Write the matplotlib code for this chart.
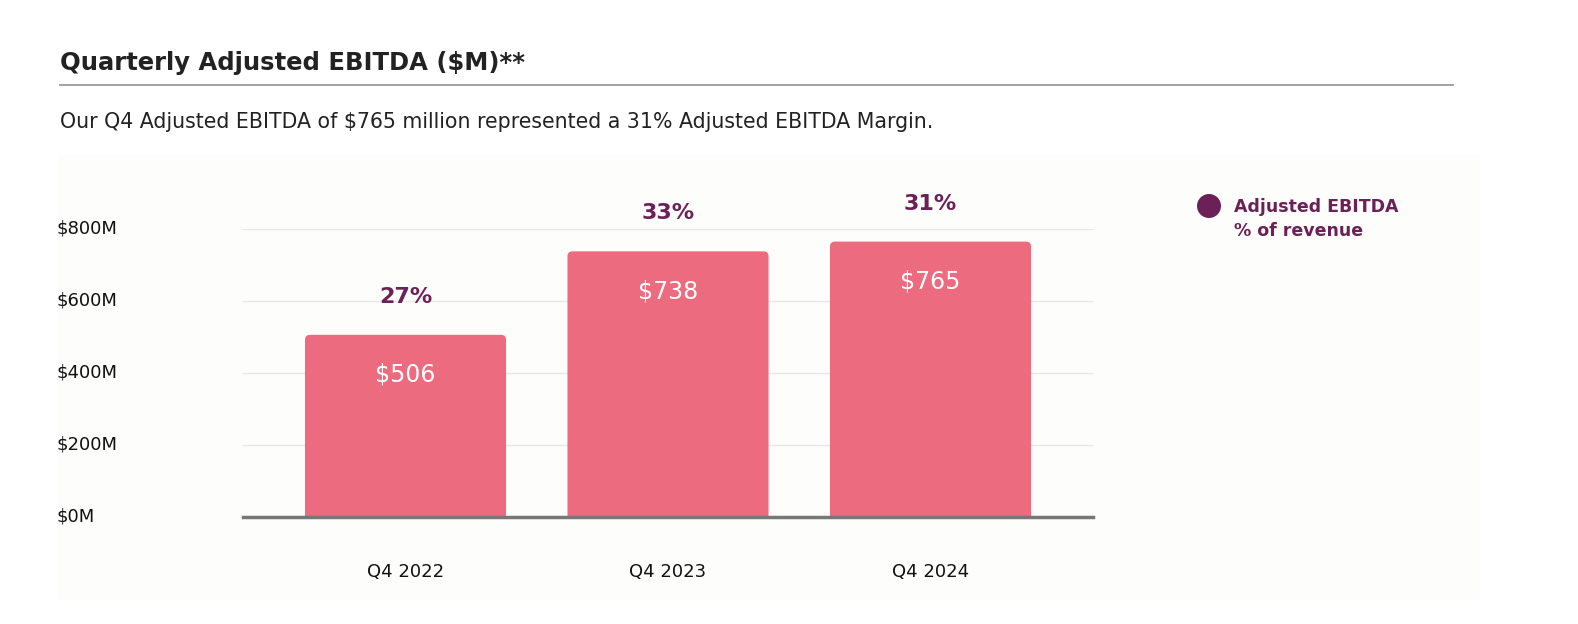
import matplotlib.pyplot as plt
from matplotlib.patches import Rectangle, Ellipse, FancyBboxPatch
from matplotlib.lines import Line2D
import numpy as np

quarters = ["Q4 2022", "Q4 2023", "Q4 2024"]
ebitda = [506, 738, 765]
margin = ["27%", "33%", "31%"]
yticks = [0, 200, 400, 600, 800]
ytick_labels = ["$0M", "$200M", "$400M", "$600M", "$800M"]

BAR_COLOR = "#EC6B7E"
PURPLE = "#6B2157"
W, H = 1578, 624

plt.rcParams['font.family'] = ['DejaVu Sans']

fig = plt.figure(figsize=(W / 100, H / 100), dpi=100)
fig.patch.set_facecolor("white")

# faint panel behind the chart
panel = Rectangle((58 / W, 1 - 600 / H), 1422 / W, 445 / H,
                  transform=fig.transFigure, facecolor="#FDFDFB",
                  edgecolor="none", zorder=-5)
fig.add_artist(panel)

# title, rule and subtitle
fig.text(60 / W, 1 - 63 / H, "Quarterly Adjusted EBITDA ($M)**", fontsize=17.5,
         fontweight="bold", color="#222222", va="center", ha="left")
fig.add_artist(Line2D([60 / W, 1453 / W], [1 - 85 / H, 1 - 85 / H],
                      transform=fig.transFigure, color="#9A9A9A", lw=1.3))
fig.text(60 / W, 1 - 122 / H,
         "Our Q4 Adjusted EBITDA of $765 million represented a 31% Adjusted EBITDA Margin.",
         fontsize=14.8, color="#222222", va="center", ha="left")

ax = fig.add_axes([243 / W, 1 - 517 / H, 850 / W, 288 / H])
ax.set_zorder(2)
ax.set_facecolor("none")
x = np.arange(len(quarters))
bars = ax.bar(x, ebitda, width=0.766, color=BAR_COLOR, zorder=2)

# swap the square bars for ones with rounded top corners
px_x = 850 / 3.238   # pixels per category unit
px_y = 288 / 800     # pixels per $M
r_px = 5
for b in bars:
    b.set_visible(False)
    ext = r_px * 3 / px_y
    rb = FancyBboxPatch((b.get_x(), -ext), b.get_width(), b.get_height() + ext,
                        boxstyle=f"round,pad=0,rounding_size={r_px / px_x}",
                        mutation_aspect=px_x / px_y,
                        facecolor=BAR_COLOR, edgecolor="none", zorder=2)
    ax.add_patch(rb)

for xi, v, m in zip(x, ebitda, margin):
    ax.annotate(f"${v}", (xi, v), xytext=(0, -40), textcoords="offset pixels",
                ha="center", va="center", color="white", fontsize=17)
    ax.annotate(m, (xi, v), xytext=(0, 38), textcoords="offset pixels",
                ha="center", va="center", color=PURPLE, fontsize=16,
                fontweight="bold")

ax.set_xlim(-0.619, 2.619)
ax.set_ylim(0, 800)
ax.set_yticks(yticks)
ax.set_yticklabels([])
for yv in yticks[1:]:
    ax.axhline(yv, color="#E8E8E8", lw=1, zorder=1)
ax.axhline(0, color="#777777", lw=2.5, zorder=3, clip_on=False)
for yv, lab in zip(yticks, ytick_labels):
    ax.annotate(lab, (0, yv), xycoords=("figure fraction", "data"),
                xytext=(57, 0), textcoords="offset pixels",
                ha="left", va="center", fontsize=13, color="#111111")

ax.set_xticks(x)
ax.set_xticklabels(quarters, fontsize=13, color="#111111")
ax.tick_params(axis="x", length=0, pad=33)
ax.tick_params(axis="y", length=0)
for s in ax.spines.values():
    s.set_visible(False)

# legend
fig.add_artist(Ellipse((1209 / W, 1 - 206 / H), 24 / W, 24 / H,
                       transform=fig.transFigure, facecolor=PURPLE,
                       edgecolor="none"))
fig.text(1234 / W, 1 - 207 / H, "Adjusted EBITDA", fontsize=12.5, color=PURPLE,
         fontweight="bold", va="center", ha="left")
fig.text(1234 / W, 1 - 231 / H, "% of revenue", fontsize=12.5, color=PURPLE,
         fontweight="bold", va="center", ha="left")

fig.savefig("out.png", dpi=100)
